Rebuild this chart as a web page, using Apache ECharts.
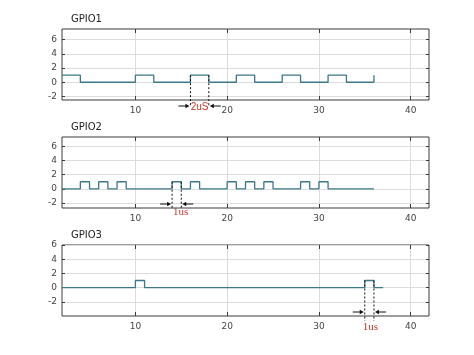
<!DOCTYPE html>
<html>
<head>
<meta charset="utf-8">
<script src="https://cdn.jsdelivr.net/npm/echarts@6/dist/echarts.min.js"></script>
<style>
html,body{margin:0;padding:0;background:#fff;}
#c{width:474px;height:355px;}
</style>
</head>
<body>
<div id="c"></div>
<script>
// ---- data ----
var titles = ['GPIO1', 'GPIO2', 'GPIO3'];
var xTicks = [10, 20, 30, 40];
var yTicks = [-2, 0, 2, 4, 6];
// transition times and the level that starts at each time
var gpio1Times  = [2, 4, 10, 12, 16, 18, 21, 23, 26, 28, 31, 33, 36];
var gpio1Levels = [1, 0, 1, 0, 1, 0, 1, 0, 1, 0, 1, 0, 1];
var gpio2Times  = [2, 4, 5, 6, 7, 8, 9, 14, 15, 16, 17, 20, 21, 22, 23, 24, 25, 28, 29, 30, 31, 36];
var gpio2Levels = [0, 1, 0, 1, 0, 1, 0, 1, 0, 1, 0, 1, 0, 1, 0, 1, 0, 1, 0, 1, 0, 0];
var gpio3Times  = [2, 10, 11, 35, 36, 37];
var gpio3Levels = [0, 1, 0, 1, 0, 0];
// measured pulse annotations: [start, end, level]
var gpio1Pulse = [16, 18, 1];
var gpio2Pulse = [14, 15, 1];
var gpio3Pulse = [35, 36, 1];
var pulseLabels = ['2uS', '1us', '1us'];

// ---- layout / style ----
var xRange = [2, 42];
var yRanges = [[-2.5, 7.5], [-2.7, 7.3], [-4, 6]];
var gridTops = [29, 137, 245];
var gridH = 71;
var lineColor = '#3d7888';
var frameColor = '#3a3a3a';
var gridLineColor = '#dcdcdc';
var labelFont = 'DejaVu Sans';
// annotation pixel offsets relative to axis bottom: [arrowY, dashEnd, textY, textDx]
var annotStyle = [[6, 7, 7, 0], [-4, 1, 4, 4], [-4, 5, 11, 1]];
var annotFamilies = ['Liberation Sans', 'Liberation Serif', 'Liberation Serif'];
var annotSizes = [10, 11, 11];

function zip(t, l) { return t.map(function (v, i) { return [v, l[i]]; }); }
var signals = [zip(gpio1Times, gpio1Levels), zip(gpio2Times, gpio2Levels), zip(gpio3Times, gpio3Levels)];
var pulses = [gpio1Pulse, gpio2Pulse, gpio3Pulse];

function tickAxisX(i, pos, labels) {
  return { type: 'value', gridIndex: i, min: xRange[0], max: xRange[1], position: pos,
    axisLine: { show: false, onZero: false },
    axisTick: { show: true, inside: true, length: 4, customValues: xTicks, lineStyle: { color: frameColor } },
    axisLabel: { show: labels, customValues: xTicks, fontSize: 9, color: '#444', margin: 6, fontFamily: labelFont },
    splitLine: { show: labels, lineStyle: { color: gridLineColor, width: 1 } } };
}
function tickAxisY(i, pos, labels) {
  return { type: 'value', gridIndex: i, min: yRanges[i][0], max: yRanges[i][1], position: pos,
    axisLine: { show: false, onZero: false },
    axisTick: { show: true, inside: true, length: 3, customValues: yTicks, lineStyle: { color: frameColor } },
    axisLabel: { show: labels, customValues: yTicks, fontSize: 9, color: '#444', margin: 5, fontFamily: labelFont },
    splitLine: { show: labels, lineStyle: { color: gridLineColor, width: 1 } } };
}

var grids = [], xAxes = [], yAxes = [], series = [], titleOpts = [];
for (var i = 0; i < 3; i++) {
  grids.push({ left: 62, right: 45, top: gridTops[i], height: gridH, show: true,
    borderColor: frameColor, borderWidth: 1, backgroundColor: 'transparent' });
  titleOpts.push({ text: titles[i], left: 71, top: gridTops[i] - 15, padding: 0,
    textStyle: { fontSize: 10, fontWeight: 'normal', color: '#222', fontFamily: labelFont } });
  xAxes.push(tickAxisX(i, 'bottom', true));
  xAxes.push(tickAxisX(i, 'top', false));
  yAxes.push(tickAxisY(i, 'left', true));
  yAxes.push(tickAxisY(i, 'right', false));

  series.push({ type: 'line', xAxisIndex: 2 * i, yAxisIndex: 2 * i, step: 'end', symbol: 'none',
    data: signals[i], lineStyle: { color: lineColor, width: 1.3 }, animation: false, z: 5 });

  (function (idx) {
    series.push({ type: 'custom', xAxisIndex: 2 * idx, yAxisIndex: 2 * idx, clip: false, animation: false, z: 6,
      data: [pulses[idx]],
      renderItem: function (params, api) {
        var x0 = api.value(0), x1 = api.value(1), lv = api.value(2);
        var a = api.coord([x0, lv]), b = api.coord([x1, lv]);
        var bottom = api.coord([x0, yRanges[idx][0]])[1];
        var st = annotStyle[idx];
        var ay = bottom + st[0], dEnd = bottom + st[1], ty = bottom + st[2];
        var dash = { stroke: '#111', lineWidth: 1, lineDash: [2, 2] };
        var solid = { stroke: '#111', lineWidth: 1 };
        return { type: 'group', children: [
          { type: 'line', shape: { x1: a[0], y1: a[1], x2: a[0], y2: dEnd }, style: dash },
          { type: 'line', shape: { x1: b[0], y1: b[1], x2: b[0], y2: dEnd }, style: dash },
          { type: 'line', shape: { x1: a[0] - 12, y1: ay, x2: a[0] - 4, y2: ay }, style: solid },
          { type: 'polygon', shape: { points: [[a[0] - 1, ay], [a[0] - 5, ay - 2.2], [a[0] - 5, ay + 2.2]] }, style: { fill: '#111' } },
          { type: 'line', shape: { x1: b[0] + 12, y1: ay, x2: b[0] + 4, y2: ay }, style: solid },
          { type: 'polygon', shape: { points: [[b[0] + 1, ay], [b[0] + 5, ay - 2.2], [b[0] + 5, ay + 2.2]] }, style: { fill: '#111' } },
          { type: 'text', style: { text: pulseLabels[idx], x: (a[0] + b[0]) / 2 + st[3], y: ty,
              align: 'center', verticalAlign: 'middle', fill: '#c0392b',
              fontSize: annotSizes[idx], fontFamily: annotFamilies[idx] } }
        ] };
      }
    });
  })(i);
}

var chart = echarts.init(document.getElementById('c'), null, { renderer: 'canvas' });
chart.setOption({
  animation: false,
  backgroundColor: '#fff',
  title: titleOpts,
  grid: grids,
  xAxis: xAxes,
  yAxis: yAxes,
  series: series
});
</script>
</body>
</html>
